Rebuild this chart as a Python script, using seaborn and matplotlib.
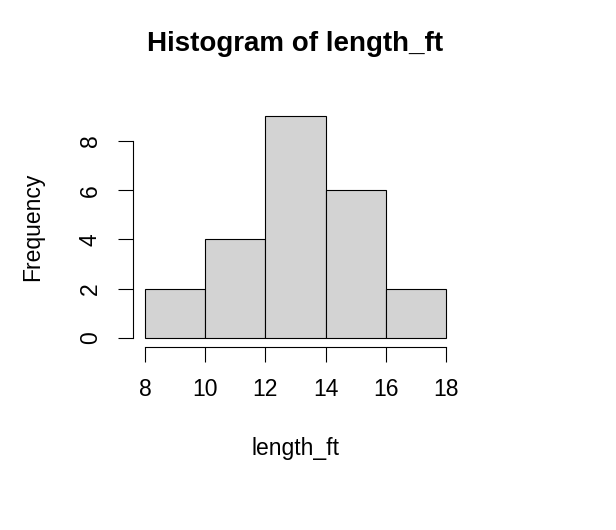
import matplotlib
matplotlib.use("Agg")
import matplotlib.pyplot as plt
import seaborn as sns
import numpy as np

# Data
bin_edges = [8, 10, 12, 14, 16, 18]
bin_mids = [9, 11, 13, 15, 17]
counts = [2, 4, 9, 6, 2]
x_ticks = [8, 10, 12, 14, 16, 18]
y_ticks = [0, 2, 4, 6, 8]

sns.set_style("white")
plt.rcParams['font.family'] = ['Liberation Sans', 'DejaVu Sans']
plt.rcParams['text.color'] = 'black'
plt.rcParams['axes.labelcolor'] = 'black'

fig = plt.figure(figsize=(6.16, 5.30), dpi=100)
ax = fig.add_axes([0.2159, 0.3458, 0.5276, 0.4512])

sns.histplot(x=bin_mids, weights=counts, bins=bin_edges, color="#d3d3d3",
             edgecolor="black", linewidth=0.8, alpha=1, ax=ax)

ax.set_xlim(7.6, 18.4)
ax.set_ylim(-0.36, 9.36)
ax.set_xticks(x_ticks)
ax.set_yticks(y_ticks)
ax.set_yticklabels([str(v) for v in y_ticks], rotation=90, va='center')

for s in ['top', 'right']:
    ax.spines[s].set_visible(False)
ax.spines['left'].set_bounds(0, 8)
ax.spines['bottom'].set_bounds(8, 18)
for s in ['left', 'bottom']:
    ax.spines[s].set_color('black')
    ax.spines[s].set_linewidth(0.8)

ax.tick_params(axis='both', which='major', direction='out', length=10.5, width=0.8,
               color='black', labelsize=16.5, labelcolor='black', pad=12,
               left=True, bottom=True)

ax.set_xlabel("length_ft", fontsize=16.5, va='center', color='black')
ax.set_ylabel("Frequency", fontsize=16.5, va='center', ha='center', color='black')
ax.xaxis.set_label_coords(0.5, -0.4237)
ax.yaxis.set_label_coords(-0.3076, 0.5)

fig.suptitle("Histogram of length_ft", x=0.4797, y=1 - 44 / 530, va='center',
             fontsize=20, fontweight='bold', color='black')

fig.savefig("out.png", dpi=100, facecolor='white')
